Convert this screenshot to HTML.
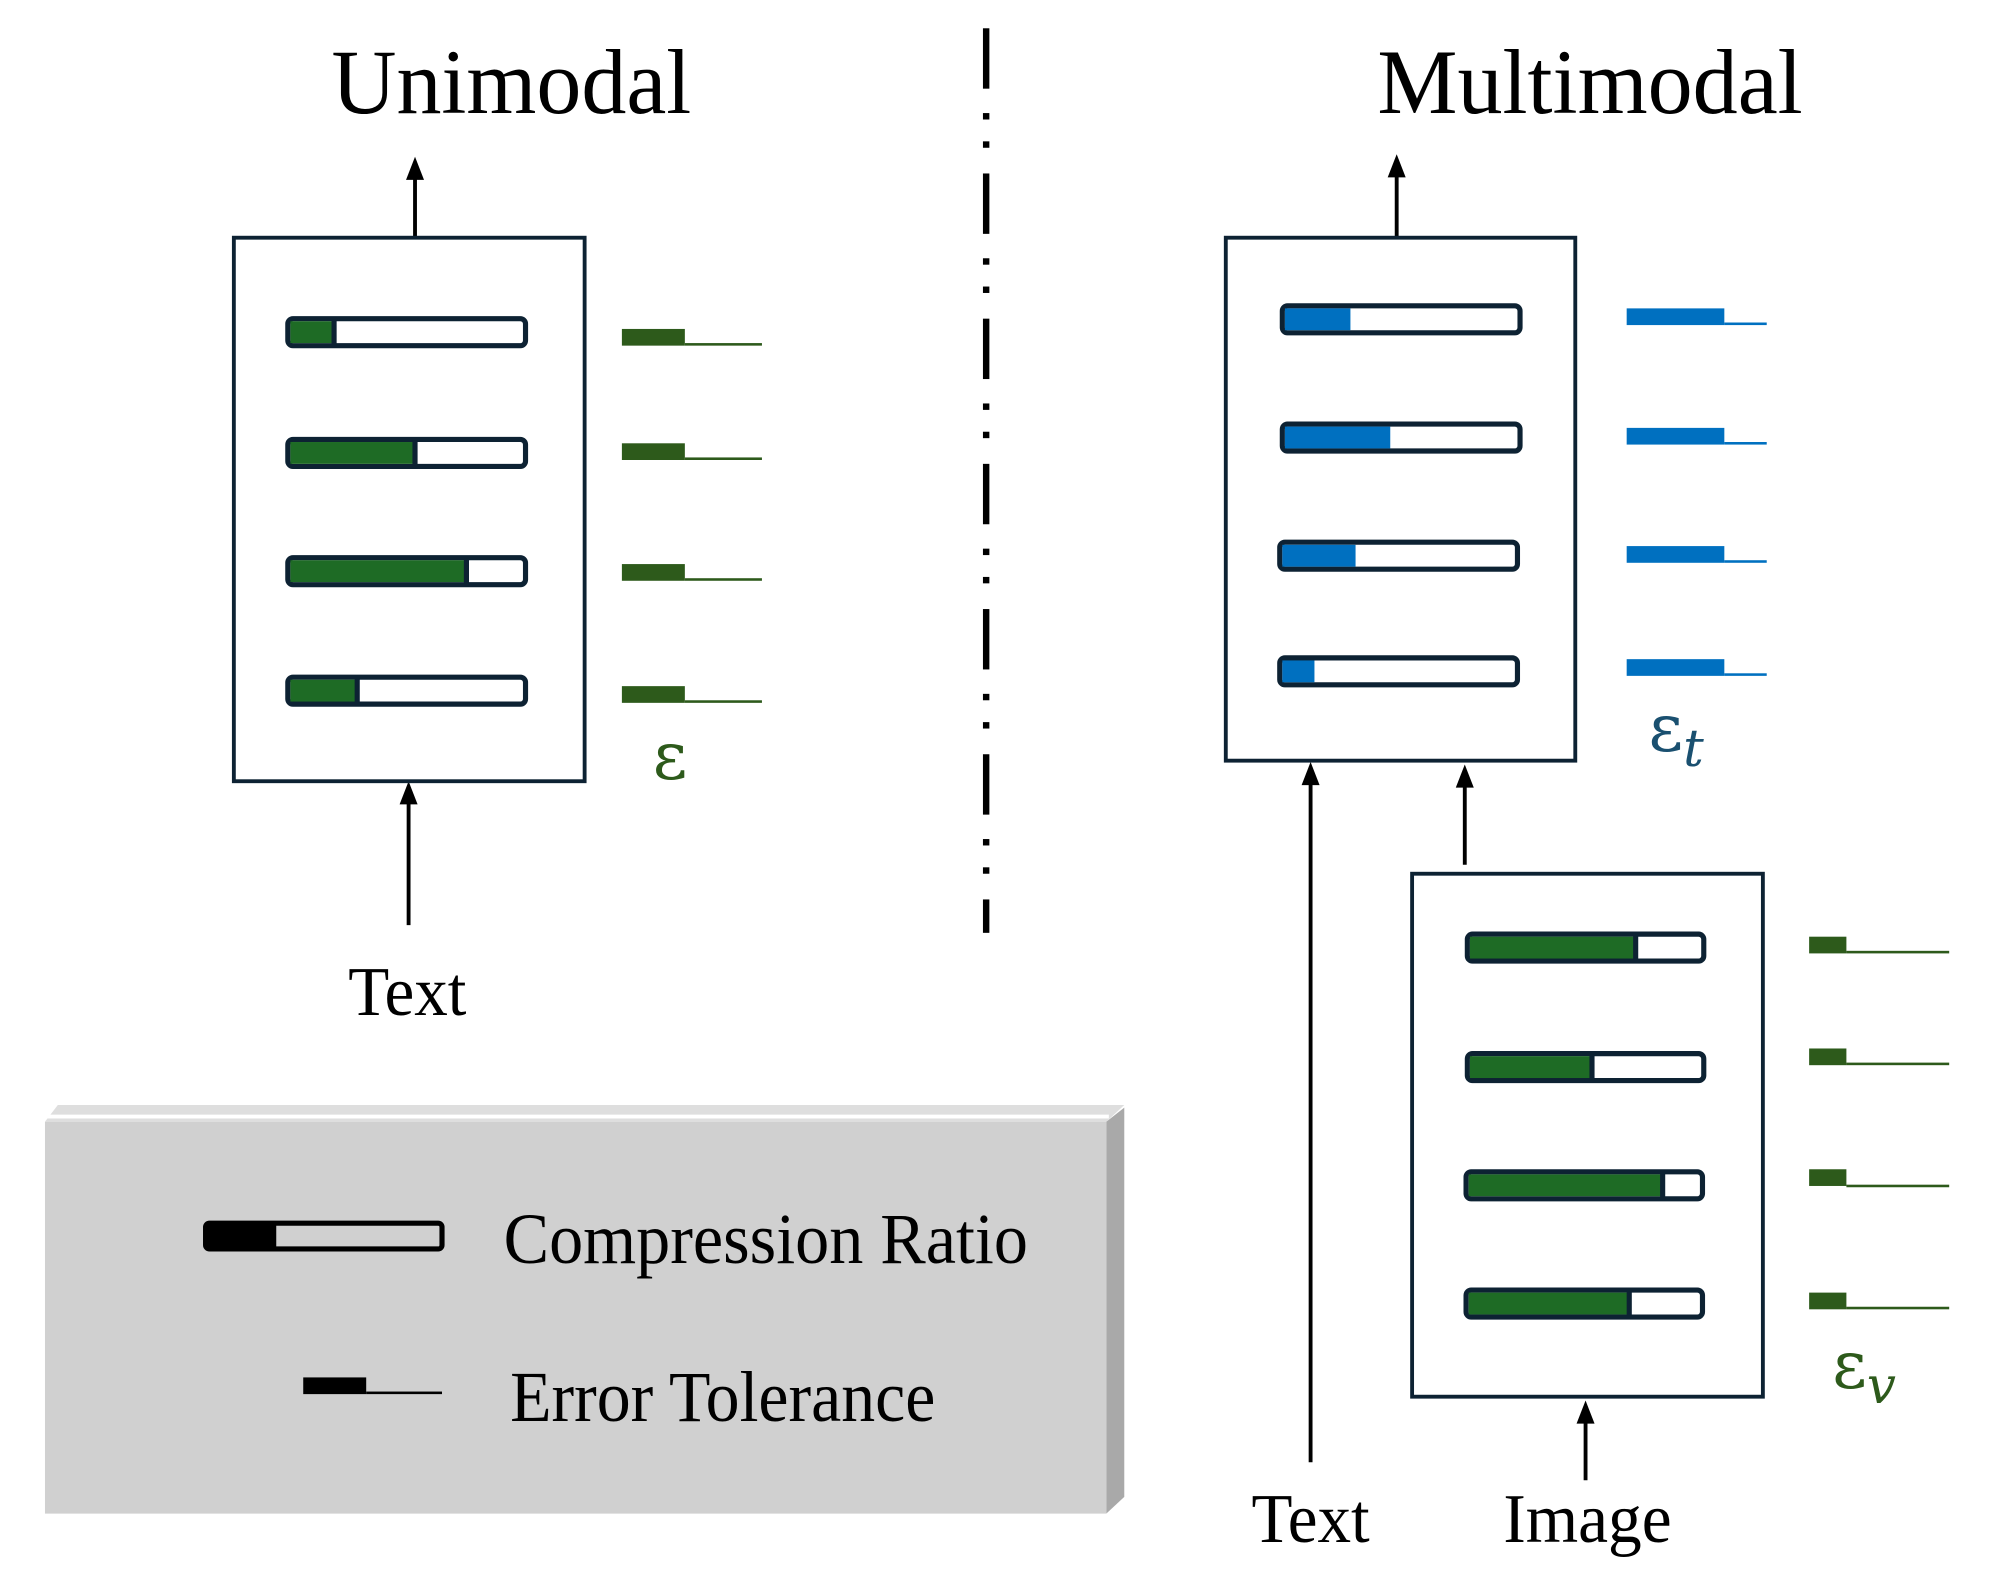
<!DOCTYPE html>
<html><head><meta charset="utf-8"><style>
html,body{margin:0;padding:0;background:#fff;}
svg{display:block;}
</style></head><body>
<svg width="2016" height="1592" viewBox="0 0 1569 1239" xmlns="http://www.w3.org/2000/svg">
<defs>
<marker id="ah" viewBox="0 0 10 10" refX="5" refY="0" markerWidth="14" markerHeight="14" markerUnits="userSpaceOnUse" orient="auto-start-reverse"></marker>
</defs>
<rect width="1569" height="1239" fill="#fff"/>
<g font-family="'Liberation Serif', serif" fill="#000">
<text x="258" y="88" font-size="72" textLength="280" lengthAdjust="spacingAndGlyphs">Unimodal</text>
<text x="1072" y="88" font-size="72" textLength="331" lengthAdjust="spacingAndGlyphs">Multimodal</text>
<text x="271" y="790" font-size="54" textLength="92" lengthAdjust="spacingAndGlyphs">Text</text>
<text x="974" y="1200" font-size="54" textLength="92" lengthAdjust="spacingAndGlyphs">Text</text>
<text x="1170" y="1200" font-size="54" textLength="131" lengthAdjust="spacingAndGlyphs">Image</text>
</g>

<!-- divider -->
<g fill="#000">
<rect x="765" y="22" width="5" height="47"/><rect x="765" y="88" width="5" height="5"/><rect x="765" y="110" width="5" height="5"/>
<rect x="765" y="135" width="5" height="47"/><rect x="765" y="201" width="5" height="5"/><rect x="765" y="223" width="5" height="5"/>
<rect x="765" y="248" width="5" height="47"/><rect x="765" y="314" width="5" height="5"/><rect x="765" y="336" width="5" height="5"/>
<rect x="765" y="361" width="5" height="47"/><rect x="765" y="427" width="5" height="5"/><rect x="765" y="449" width="5" height="5"/>
<rect x="765" y="474" width="5" height="47"/><rect x="765" y="540" width="5" height="5"/><rect x="765" y="562" width="5" height="5"/>
<rect x="765" y="587" width="5" height="47"/><rect x="765" y="653" width="5" height="5"/><rect x="765" y="675" width="5" height="5"/>
<rect x="765" y="700" width="5" height="26"/>
</g>

<!-- arrows -->
<g stroke="#000" stroke-width="3" fill="none">
<line x1="323" y1="185" x2="323" y2="135"/>
<line x1="318" y1="720" x2="318" y2="620"/>
<line x1="1087" y1="185" x2="1087" y2="132"/>
<line x1="1020" y1="1138" x2="1020" y2="605"/>
<line x1="1140" y1="673" x2="1140" y2="607"/>
<line x1="1234" y1="1152" x2="1234" y2="1102"/>
</g>
<g fill="#000">
<polygon points="323,122 316,140 330,140"/>
<polygon points="318,608 311,626 325,626"/>
<polygon points="1087,120 1080,138 1094,138"/>
<polygon points="1020,593 1013,611 1027,611"/>
<polygon points="1140,595 1133,613 1147,613"/>
<polygon points="1234,1090 1227,1108 1241,1108"/>
</g>

<!-- boxes -->
<g fill="none" stroke="#0d2233" stroke-width="3">
<rect x="182" y="185" width="273" height="423"/>
<rect x="954" y="185" width="272" height="407"/>
<rect x="1099" y="680" width="273" height="407"/>
</g>

<!-- left bars -->
<g stroke="#0d2233" stroke-width="4">
<rect x="224" y="248" width="185" height="21" rx="4" fill="#fff"/>
<rect x="226" y="250" width="34" height="17" fill="#1e6b25" stroke="none"/><line x1="260" y1="249" x2="260" y2="268"/>
<rect x="224" y="342" width="185" height="21" rx="4" fill="#fff"/>
<rect x="226" y="344" width="97" height="17" fill="#1e6b25" stroke="none"/><line x1="323" y1="343" x2="323" y2="362"/>
<rect x="224" y="434" width="185" height="21" rx="4" fill="#fff"/>
<rect x="226" y="436" width="137" height="17" fill="#1e6b25" stroke="none"/><line x1="363" y1="435" x2="363" y2="454"/>
<rect x="224" y="527" width="185" height="21" rx="4" fill="#fff"/>
<rect x="226" y="529" width="52" height="17" fill="#1e6b25" stroke="none"/><line x1="278" y1="528" x2="278" y2="547"/>
</g>
<g fill="#2d5a1b">
<rect x="484" y="256" width="49" height="13"/><rect x="533" y="267" width="60" height="2"/>
<rect x="484" y="345" width="49" height="13"/><rect x="533" y="356" width="60" height="2"/>
<rect x="484" y="439" width="49" height="13"/><rect x="533" y="450" width="60" height="2"/>
<rect x="484" y="534" width="49" height="13"/><rect x="533" y="545" width="60" height="2"/>
</g>
<text x="508" y="606" font-family="'DejaVu Serif', serif" font-size="52" fill="#2d5a1b">ε</text>

<!-- blue bars -->
<g stroke="#0d2233" stroke-width="4">
<rect x="998" y="238" width="185" height="21" rx="4" fill="#fff"/>
<rect x="1000" y="240" width="51" height="17" fill="#0070c0" stroke="none"/>
<rect x="998" y="330" width="185" height="21" rx="4" fill="#fff"/>
<rect x="1000" y="332" width="82" height="17" fill="#0070c0" stroke="none"/>
<rect x="996" y="422" width="185" height="21" rx="4" fill="#fff"/>
<rect x="998" y="424" width="57" height="17" fill="#0070c0" stroke="none"/>
<rect x="996" y="512" width="185" height="21" rx="4" fill="#fff"/>
<rect x="998" y="514" width="25" height="17" fill="#0070c0" stroke="none"/>
</g>
<g fill="#0070c0">
<rect x="1266" y="240" width="76" height="13"/><rect x="1342" y="251" width="33" height="2"/>
<rect x="1266" y="333" width="76" height="13"/><rect x="1342" y="344" width="33" height="2"/>
<rect x="1266" y="425" width="76" height="13"/><rect x="1342" y="436" width="33" height="2"/>
<rect x="1266" y="513" width="76" height="13"/><rect x="1342" y="524" width="33" height="2"/>
</g>
<text x="1283" y="584" font-family="'DejaVu Serif', serif" font-size="52" fill="#1a5070">ε<tspan font-style="italic" font-size="40" dy="12">t</tspan></text>

<!-- green bars lower -->
<g stroke="#0d2233" stroke-width="4">
<rect x="1142" y="727" width="184" height="21" rx="4" fill="#fff"/>
<rect x="1144" y="729" width="129" height="17" fill="#1e6b25" stroke="none"/><line x1="1273" y1="728" x2="1273" y2="747"/>
<rect x="1142" y="820" width="184" height="21" rx="4" fill="#fff"/>
<rect x="1144" y="822" width="95" height="17" fill="#1e6b25" stroke="none"/><line x1="1239" y1="821" x2="1239" y2="840"/>
<rect x="1141" y="912" width="184" height="21" rx="4" fill="#fff"/>
<rect x="1143" y="914" width="151" height="17" fill="#1e6b25" stroke="none"/><line x1="1294" y1="913" x2="1294" y2="932"/>
<rect x="1141" y="1004" width="184" height="21" rx="4" fill="#fff"/>
<rect x="1143" y="1006" width="125" height="17" fill="#1e6b25" stroke="none"/><line x1="1268" y1="1005" x2="1268" y2="1024"/>
</g>
<g fill="#2d5a1b">
<rect x="1408" y="729" width="29" height="13"/><rect x="1437" y="740" width="80" height="2"/>
<rect x="1408" y="816" width="29" height="13"/><rect x="1437" y="827" width="80" height="2"/>
<rect x="1408" y="910" width="29" height="13"/><rect x="1437" y="922" width="80" height="2"/>
<rect x="1408" y="1006" width="29" height="13"/><rect x="1437" y="1017" width="80" height="2"/>
</g>
<text x="1426" y="1080" font-family="'DejaVu Serif', serif" font-size="52" fill="#2d5a1b">ε<tspan font-style="italic" font-size="40" dy="12">v</tspan></text>

<!-- legend -->
<polygon points="35,873 45,860 875,860 861,873" fill="#dedede"/>
<polygon points="861,873 875,862 875,1165 861,1178" fill="#a9a9a9"/>
<rect x="35" y="873" width="826" height="305" fill="#d0d0d0"/>
<line x1="37" y1="869" x2="863" y2="869" stroke="#fff" stroke-width="3"/>
<rect x="160" y="952" width="184" height="20" rx="3" fill="#d0d0d0" stroke="#000" stroke-width="4"/>
<rect x="160" y="952" width="55" height="20" fill="#000"/>
<rect x="236" y="1072" width="49" height="13" fill="#000"/>
<rect x="285" y="1083" width="59" height="2" fill="#000"/>
<g font-family="'Liberation Serif', serif" fill="#000">
<text x="392" y="983" font-size="56" textLength="408" lengthAdjust="spacingAndGlyphs">Compression Ratio</text>
<text x="397" y="1106" font-size="56" textLength="331" lengthAdjust="spacingAndGlyphs">Error Tolerance</text>
</g>
</svg>
</body></html>
